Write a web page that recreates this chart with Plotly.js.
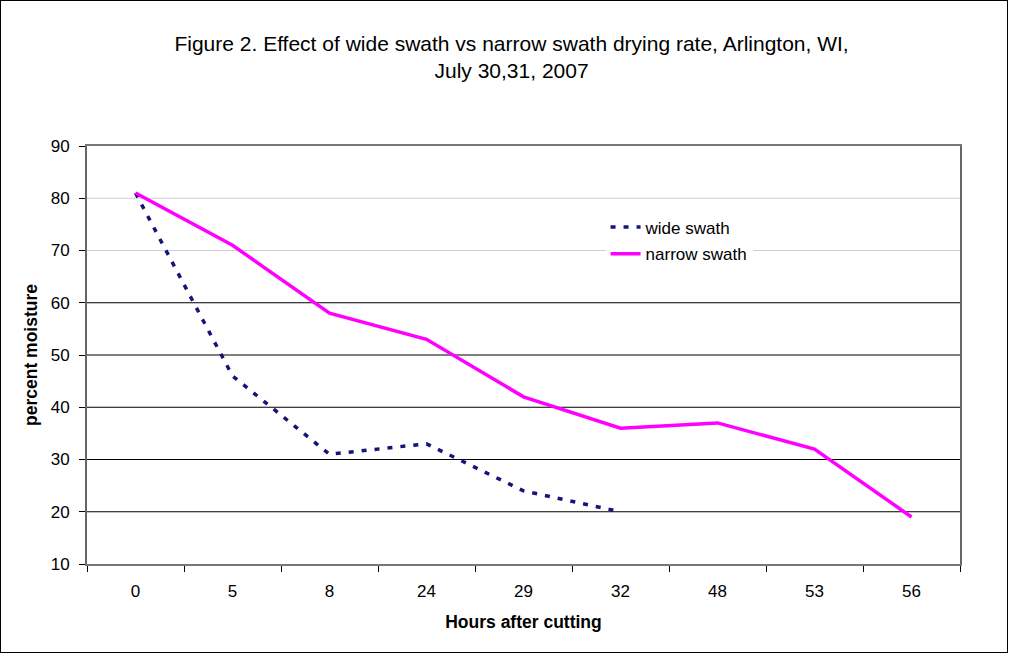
<!DOCTYPE html>
<html>
<head>
<meta charset="utf-8">
<script src="https://cdn.plot.ly/plotly-3.0.1.min.js"></script>
<style>
html,body{margin:0;padding:0;background:#fff;}
#wrap{position:relative;width:1009px;height:654px;}
#chart{width:1009px;height:654px;}
#frame{position:absolute;left:0;top:0;width:1006px;height:651px;border:1px solid #000;pointer-events:none;}
</style>
</head>
<body>
<div id="wrap"><div id="chart"></div><div id="frame"></div></div>
<script>
var hours = ["0","5","8","24","29","32","48","53","56"];
var wideHours = ["0","5","8","24","29","32"];
var wideSwath = [81, 46, 31, 33, 24, 20];
var narrowSwath = [81, 71, 58, 53, 42, 36, 37, 32, 19];
var darkGridValues = [20, 30, 40, 50, 60];
var lightGridValues = [70, 80];

var traces = [
  {x: wideHours, y: wideSwath, name: "wide swath", type: "scatter", mode: "lines", legend: "legend",
   line: {color: "#14147a", width: 3.5, dash: "5px,8px"}},
  {x: hours, y: narrowSwath, name: "narrow swath", type: "scatter", mode: "lines", legend: "legend2",
   line: {color: "#ff00ff", width: 3.5}}
];

function gridShape(v, color){
  return {type: "line", xref: "paper", yref: "y", x0: 0, x1: 1, y0: v, y1: v,
          line: {color: color, width: 1.2}, layer: "below"};
}
var shapes = darkGridValues.map(function(v){ return gridShape(v, "#000"); })
  .concat(lightGridValues.map(function(v){ return gridShape(v, "#d0d0d0"); }));

var legendFont = {size: 17};
var layout = {
  width: 1009, height: 654,
  margin: {l: 87, r: 49, t: 146, b: 90},
  paper_bgcolor: "#fff", plot_bgcolor: "#fff",
  font: {family: "Liberation Sans, Arial, sans-serif", color: "#000", size: 17},
  title: {text: "Figure 2. Effect of wide swath vs narrow swath drying rate, Arlington, WI,<br>July 30,31, 2007",
          font: {size: 21, family: "Liberation Sans, Arial, sans-serif"}, x: 0.507, xanchor: "center", y: 0.922, yanchor: "top"},
  showlegend: true,
  legend: {x: 0.594, y: 0.848, xanchor: "left", yanchor: "top", bgcolor: "rgba(0,0,0,0)", borderwidth: 0, font: legendFont},
  legend2: {x: 0.594, y: 0.784, xanchor: "left", yanchor: "top", bgcolor: "#fff", borderwidth: 0, font: legendFont},
  xaxis: {type: "category", categoryorder: "array", categoryarray: hours, range: [-0.5, 8.5],
          tickson: "boundaries", ticks: "outside", ticklen: 6, tickcolor: "#000", tickwidth: 1,
          showgrid: false, zeroline: false, showline: true, linecolor: "#777", linewidth: 2, mirror: true,
          tickfont: {size: 17}, ticklabelstandoff: 11,
          title: {text: "<b>Hours after cutting</b>", font: {size: 17.5}, standoff: 15}},
  yaxis: {range: [10, 90], dtick: 10, tick0: 10, ticks: "outside", ticklen: 6, tickcolor: "#000",
          showgrid: false, zeroline: false,
          showline: true, linecolor: "#666", linewidth: 2, mirror: true,
          tickfont: {size: 17}, ticklabelstandoff: 6,
          title: {text: "<b>percent moisture</b>", font: {size: 17.5}, standoff: 9}},
  shapes: shapes
};

Plotly.newPlot("chart", traces, layout, {displayModeBar: false, staticPlot: true});
</script>
</body>
</html>
